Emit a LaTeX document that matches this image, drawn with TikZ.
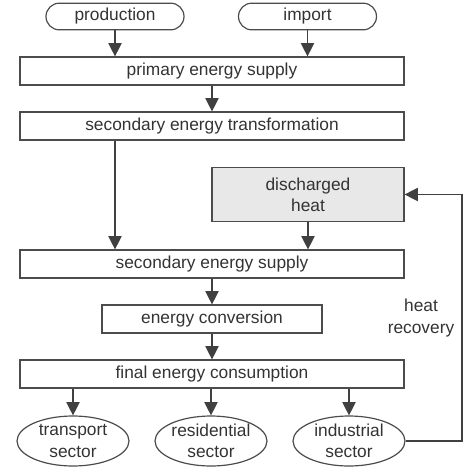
\documentclass[tikz,border=0pt]{standalone}
\usepackage{fontspec}
\setmainfont{Liberation Sans}
\usetikzlibrary{arrows.meta,shapes.geometric,shapes.misc}

\begin{document}
\begin{tikzpicture}[x=0.75pt,y=0.75pt,yscale=-1,xscale=1,
  every node/.style={font=\fontsize{13pt}{16pt}\selectfont, text=black!80},
  wide/.style={draw=black!70, line width=0.9pt, minimum width=288pt, minimum height=21pt, inner sep=0pt},
  source/.style={draw=black!70, line width=0.9pt, rounded rectangle, minimum width=103.5pt, minimum height=20pt, inner sep=0pt},
  sector/.style={draw=black!70, line width=0.9pt, ellipse, minimum width=84pt, minimum height=37.5pt, inner sep=0pt, align=center},
  flow/.style={draw=black!75, line width=0.9pt, -{Triangle[length=10pt,width=10pt]}}]
\useasboundingbox (0,0) rectangle (474,476);

% sources
\node [source] (prod) at (115,16.5) {production};
\node [source] (imp) at (307.5,16.5) {import};

% main chain
\node [wide] (pes) at (212,71) {primary energy supply};
\node [wide] (set) at (212,126) {secondary energy transformation};
\node [draw=black!70, line width=0.9pt, fill=black!9, minimum width=144pt, minimum height=41pt, inner sep=0pt, align=center] (dh) at (308,194.5) {discharged\\heat};
\node [wide] (ses) at (212,264) {secondary energy supply};
\node [wide, minimum width=165pt] (ec) at (212,319) {energy conversion};
\node [wide] (fec) at (212,374) {final energy consumption};

% sectors
\node [sector] (ts) at (73,441) {transport\\sector};
\node [sector] (rs) at (211,441) {residential\\sector};
\node [sector] (is) at (349,441) {industrial\\sector};

% label
\node [align=center] (hr) at (421,318) {heat\\recovery};

% arrows
\draw [flow] (prod.south) -- (prod.south |- pes.north);
\draw [flow] (imp.south) -- (imp.south |- pes.north);
\draw [flow] (pes) -- (set);
\draw [flow] (prod.south |- set.south) -- (prod.south |- ses.north);
\draw [flow] (dh.south) -- (dh.south |- ses.north);
\draw [flow] (ses) -- (ec);
\draw [flow] (ec) -- (fec);
\draw [flow] (ts.north |- fec.south) -- (ts.north);
\draw [flow] (rs.north |- fec.south) -- (rs.north);
\draw [flow] (is.north |- fec.south) -- (is.north);

%heat recovery loop
\coordinate (rc) at (462,441);
\draw [flow] (is.east) -- (rc) |- (dh.east);

\end{tikzpicture}
\end{document}
